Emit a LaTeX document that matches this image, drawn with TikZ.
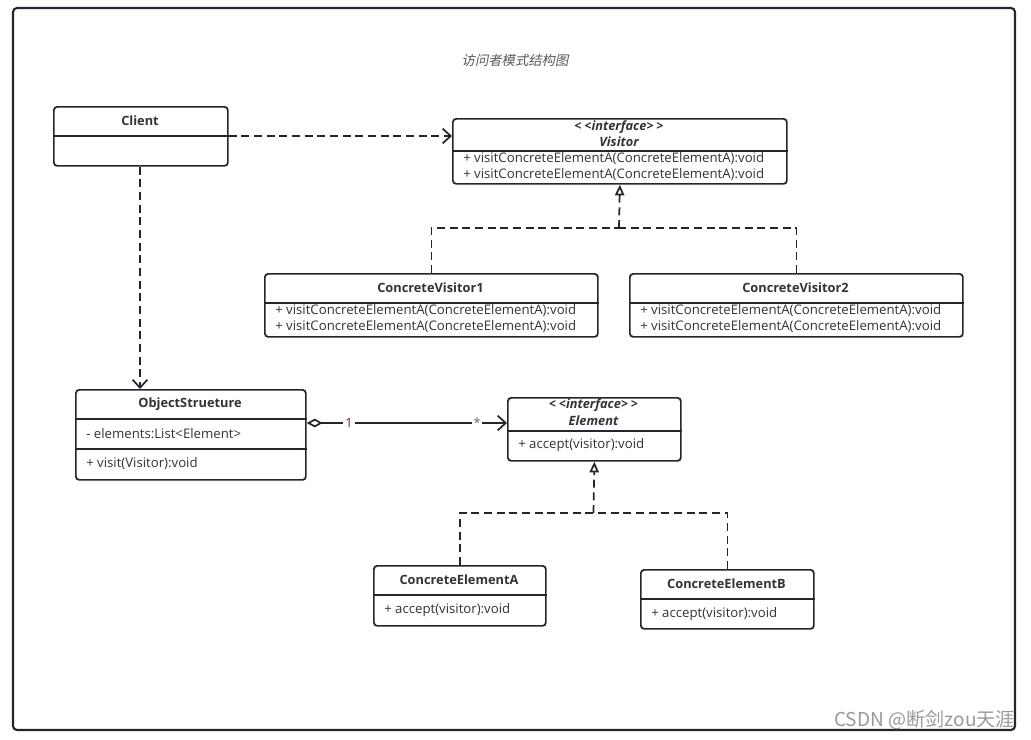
\documentclass[tikz,border=0pt]{standalone}
\usepackage{fontspec}
\setmainfont{Open Sans}
\newfontfamily\cjk{Noto Sans CJK SC}
\newfontfamily\cjkslant[FakeSlant=0.2]{Noto Sans CJK SC}
\usetikzlibrary{arrows.meta}
\definecolor{lc}{HTML}{22272E}
\definecolor{tc}{HTML}{333333}
\definecolor{onec}{HTML}{6E1F55}
\newcommand{\stereo}{<\kern2.2pt<interface>\kern2.2pt>}
\tikzset{
  umlbox/.style={draw=lc, line width=1.3pt, rounded corners=2.5pt, fill=white, inner sep=0pt, anchor=north west},
  divider/.style={draw=lc, line width=1.3pt},
  clsname/.style={font=\fontsize{9.6}{11}\selectfont\bfseries, text=tc, inner sep=0pt},
  iname/.style={font=\fontsize{9.6}{11}\selectfont\bfseries\itshape, text=tc, inner sep=0pt},
  member/.style={font=\fontsize{9.9}{11}\selectfont, text=tc, inner sep=0pt, anchor=west},
  dep/.style={draw=lc, line width=1.3pt, dash pattern=on 6pt off 3.5pt},
  openarr/.style={-{Straight Barb[length=6pt,width=11pt,line width=1.3pt]}},
  realize/.style={-{Triangle[open,length=8pt,width=7pt,line width=1.3pt]}},
  assoc/.style={draw=lc, line width=1.3pt},
}
\begin{document}
\begin{tikzpicture}[x=0.75pt,y=-0.75pt]
\useasboundingbox (0,0) rectangle (1031,739);
% outer frame
\draw[lc, line width=1.6pt, rounded corners=3pt] (13,8) rectangle (1015,730);
% title
\node[text=black!65, font=\fontsize{10}{12}\selectfont\cjkslant] (title) at (515,60) {访问者模式结构图};

% Client
\node[umlbox, minimum width={174*0.75pt}, minimum height={59*0.75pt}] (client) at (53,106) {};
\draw[divider] (client.west |- 0,136) -- (client.east |- 0,136);
\node[clsname] (clientname) at (140,121) {Client};

% Visitor
\node[umlbox, minimum width={334*0.75pt}, minimum height={65*0.75pt}] (visitor) at (452,118) {};
\draw[divider] (visitor.west |- 0,151) -- (visitor.east |- 0,151);
\node[iname] (visitorst) at (619,127) {\stereo};
\node[iname] (visitorname) at (619,142) {Visitor};
\node[member] (visitorm1) at (463,159) {+ visitConcreteElementA(ConcreteElementA):void};
\node[member] (visitorm2) at (463,175) {+ visitConcreteElementA(ConcreteElementA):void};

% ConcreteVisitor1
\node[umlbox, minimum width={333*0.75pt}, minimum height={63*0.75pt}] (cv1) at (264,273) {};
\draw[divider] (cv1.west |- 0,303) -- (cv1.east |- 0,303);
\node[clsname] (cv1name) at (430.5,288) {ConcreteVisitor1};
\node[member] (cv1m1) at (275,311) {+ visitConcreteElementA(ConcreteElementA):void};
\node[member] (cv1m2) at (275,327) {+ visitConcreteElementA(ConcreteElementA):void};

% ConcreteVisitor2
\node[umlbox, minimum width={333*0.75pt}, minimum height={63*0.75pt}] (cv2) at (629,273) {};
\draw[divider] (cv2.west |- 0,303) -- (cv2.east |- 0,303);
\node[clsname] (cv2name) at (795.5,288) {ConcreteVisitor2};
\node[member] (cv2m1) at (640,311) {+ visitConcreteElementA(ConcreteElementA):void};
\node[member] (cv2m2) at (640,327) {+ visitConcreteElementA(ConcreteElementA):void};

% ObjectStrueture
\node[umlbox, minimum width={230*0.75pt}, minimum height={90*0.75pt}] (os) at (75,389) {};
\draw[divider] (os.west |- 0,419) -- (os.east |- 0,419);
\draw[divider] (os.west |- 0,449) -- (os.east |- 0,449);
\node[clsname] (osname) at (190,404) {ObjectStrueture};
\node[member] (osa) at (86,434) {- elements:List<Element>};
\node[member] (osm) at (86,464) {+ visit(Visitor):void};

% Element
\node[umlbox, minimum width={173*0.75pt}, minimum height={63*0.75pt}] (element) at (507,397) {};
\draw[divider] (element.west |- 0,431) -- (element.east |- 0,431);
\node[iname] (elementst) at (593.5,405) {\stereo};
\node[iname] (elementname) at (593.5,421) {Element};
\node[member] (elementm) at (518,445) {+ accept(visitor):void};

% ConcreteElementA
\node[umlbox, minimum width={172*0.75pt}, minimum height={60*0.75pt}] (cea) at (373,565) {};
\draw[divider] (cea.west |- 0,595) -- (cea.east |- 0,595);
\node[clsname] (ceaname) at (459,580) {ConcreteElementA};
\node[member] (ceam) at (384,610) {+ accept(visitor):void};

% ConcreteElementB
\node[umlbox, minimum width={173*0.75pt}, minimum height={59*0.75pt}] (ceb) at (640,569) {};
\draw[divider] (ceb.west |- 0,599) -- (ceb.east |- 0,599);
\node[clsname] (cebname) at (726.5,584) {ConcreteElementB};
\node[member] (cebm) at (651,614) {+ accept(visitor):void};

% Client -> Visitor (dependency)
\draw[dep, openarr] (client.east |- 0,136) -- (visitor.west |- 0,136);
% Client -> ObjectStrueture (dependency)
\draw[dep, openarr] (client.south -| 140,0) -- (os.north -| 140,0);

% Visitor realizations
\coordinate (vj) at (619,228);
\draw[dep] (cv1.north) |- (vj);
\draw[dep] (cv2.north) |- (vj);
\draw[dep, realize] (vj) -- (visitor.south);

% Element realizations
\coordinate (ej) at (593.5,513);
\draw[dep] (cea.north) |- (ej);
\draw[dep] (ceb.north) |- (ej);
\draw[dep, realize] (ej) -- (element.south);

% Aggregation
\draw[assoc, {Diamond[open,length=12pt,width=6.5pt,line width=1.3pt]}-{Straight Barb[length=6pt,width=11pt,line width=1.3pt]}] (os.east |- 0,423) -- (element.west |- 0,423);
\node[fill=white, text=onec, font=\fontsize{9.5}{11}\selectfont, inner sep=1.5pt] (mult1) at (349,423) {1};
\node[fill=white, text=black!60, font=\fontsize{9.5}{11}\selectfont, inner sep=1pt] (multn) at (477,423) {*};

% watermark
\node[anchor=east, text=black!40, font=\fontsize{14.3}{16}\selectfont\cjk, inner sep=0pt] (wm) at (1015,720) {CSDN @断剑zou天涯};
\end{tikzpicture}
\end{document}
